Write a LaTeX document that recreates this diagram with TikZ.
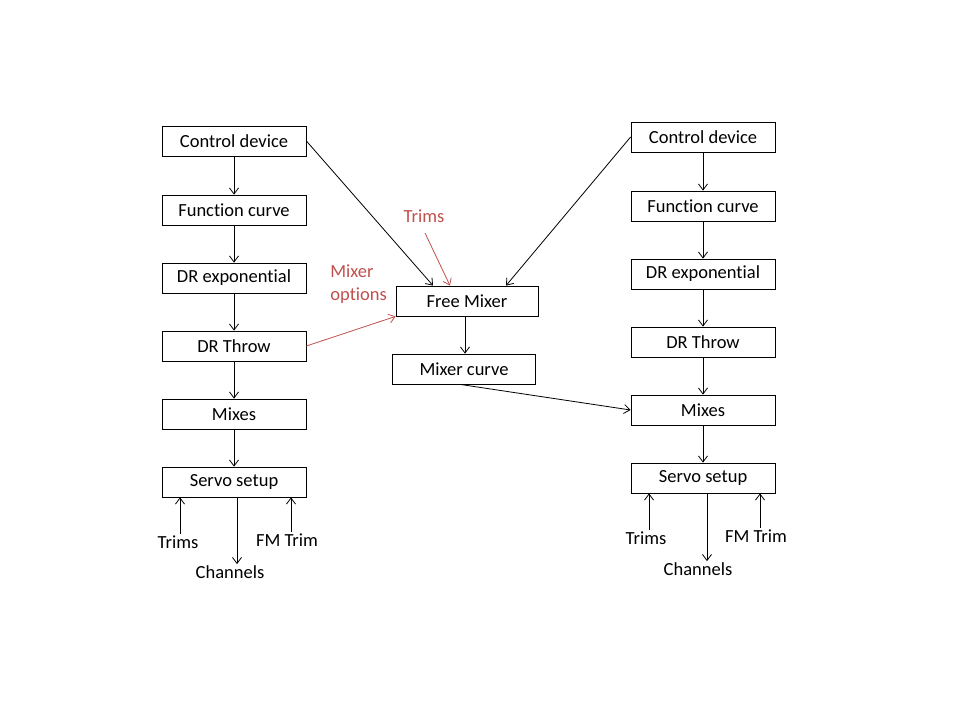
\documentclass[tikz,border=0pt]{standalone}
\usepackage{fontspec}
\setmainfont{Carlito}[Ligatures=CommonOff]
\usetikzlibrary{arrows.meta}
\definecolor{optred}{RGB}{192,80,77}

\begin{document}
\begin{tikzpicture}[x=1pt,y=-1pt,line width=.8pt,
  box/.style={draw,minimum width=144pt,minimum height=30pt,inner sep=0pt,font=\fontsize{18.5}{22}\selectfont},
  lbl/.style={inner sep=1pt,font=\fontsize{18.5}{22}\selectfont},
  flow/.style={-{Straight Barb[length=6pt,width=9pt]}},
  opt/.style={flow,draw=optred}]
  \useasboundingbox (0,0) rectangle (960,720);
  % linke Kette
  \node[box] (lctrl)  at (234,141) {Control device};
  \node[box] (lfunc)  at (234,210) {Function curve};
  \node[box] (lexpo)  at (234,278) {DR exponential};
  \node[box] (lthrow) at (234,346) {DR Throw};
  \node[box] (lmix)   at (234,414) {Mixes};
  \node[box] (lservo) at (234,482) {Servo setup};
  \draw[flow] (lctrl) -- (lfunc);
  \draw[flow] (lfunc) -- (lexpo);
  \draw[flow] (lexpo) -- (lthrow);
  \draw[flow] (lthrow) -- (lmix);
  \draw[flow] (lmix) -- (lservo);
  \node[lbl] (ltrims) at (178,542) {Trims};
  \node[lbl] (lchan)  at (230,572) {Channels};
  \node[lbl] (lfm)    at (287,540) {FM Trim};
  \draw[flow] ([xshift=2pt]ltrims.north) -- ([xshift=2pt]ltrims.north |- lservo.south);
  \draw[flow] ([xshift=3pt]lservo.south) -- ([xshift=3pt]lservo.south |- lchan.north);
  \draw[flow] ([xshift=4pt]lfm.north) -- ([xshift=4pt]lfm.north |- lservo.south);
  % rechte Kette
  \node[box] (rctrl)  at (703,137) {Control device};
  \node[box] (rfunc)  at (703,206) {Function curve};
  \node[box] (rexpo)  at (703,274) {DR exponential};
  \node[box] (rthrow) at (703,342) {DR Throw};
  \node[box] (rmix)   at (703,410) {Mixes};
  \node[box] (rservo) at (703,478) {Servo setup};
  \draw[flow] (rctrl) -- (rfunc);
  \draw[flow] (rfunc) -- (rexpo);
  \draw[flow] (rexpo) -- (rthrow);
  \draw[flow] (rthrow) -- (rmix);
  \draw[flow] (rmix) -- (rservo);
  \node[lbl] (rtrims) at (646,538) {Trims};
  \node[lbl] (rchan)  at (698,569) {Channels};
  \node[lbl] (rfm)    at (756,536) {FM Trim};
  \draw[flow] ([xshift=3pt]rtrims.north) -- ([xshift=3pt]rtrims.north |- rservo.south);
  \draw[flow] ([xshift=4pt]rservo.south) -- ([xshift=4pt]rservo.south |- rchan.north);
  \draw[flow] ([xshift=4pt]rfm.north) -- ([xshift=4pt]rfm.north |- rservo.south);
  % Mischer
  \node[box,minimum width=142pt] (free)   at (467,301) {Free Mixer};
  \node[box,minimum width=143pt] (mcurve) at (464,369) {Mixer curve};
  \draw[flow] ([xshift=-2pt]free.south) -- ([xshift=-2pt]free.south |- mcurve.north);
  \draw[flow] (lctrl.east) -- ([xshift=-34pt]free.north);
  \draw[flow] (rctrl.west) -- ([xshift=39pt]free.north);
  \draw[flow] ([xshift=-4pt]mcurve.south) -- (rmix.west);
  % Optionen
  \node[lbl,text=optred] (trims) at (424,216) {Trims};
  \node[lbl,text=optred,align=left,anchor=west,font=\fontsize{18.5}{23}\selectfont] (mopt) at (329,284) {Mixer\\options};
  \coordinate (trimsend) at (425,233);
  \draw[opt] (trimsend) -- ([xshift=-17pt]free.north);
  \draw[opt] (lthrow.east) -- (free.south west);
\end{tikzpicture}
\end{document}
